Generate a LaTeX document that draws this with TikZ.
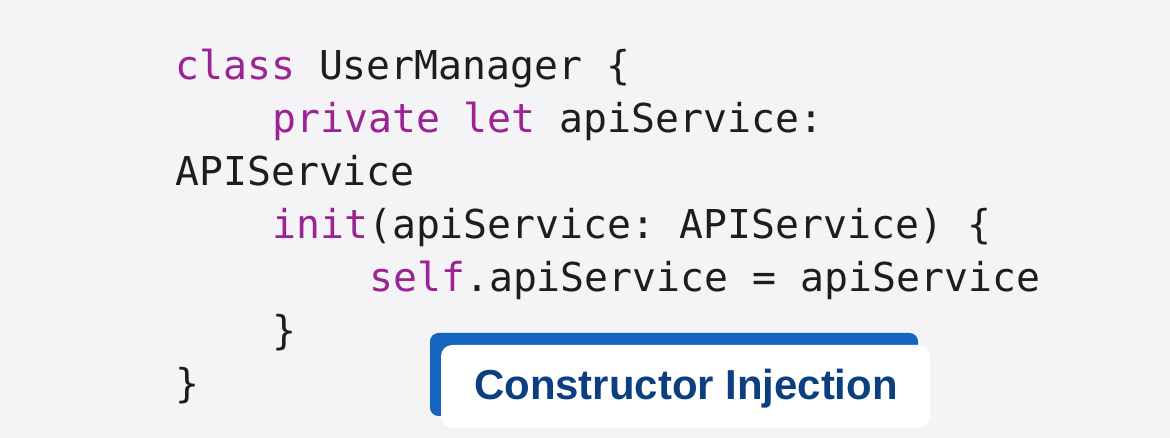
\documentclass[tikz,border=0pt]{standalone}
\usepackage{fontspec}
\setmainfont{Liberation Sans}
\setmonofont{DejaVu Sans Mono}
\usetikzlibrary{positioning}
\definecolor{pagebg}{HTML}{F4F4F7}
\definecolor{kwpurple}{HTML}{9B2393}
\definecolor{codeblack}{HTML}{1D1D1D}
\definecolor{badgeblue}{HTML}{1565C0}
\definecolor{badgetext}{HTML}{0B3F7F}
\newcommand{\kw}[1]{\textcolor{kwpurple}{#1}}
\tikzset{
    codeline/.style={anchor=base west, inner sep=0pt, text=codeblack,
        font=\ttfamily\fontsize{28.3}{28}\selectfont},
    badgeback/.style={fill=badgeblue, rounded corners=6pt},
    badgefront/.style={fill=white, rounded corners=8pt}
}
\begin{document}
\begin{tikzpicture}[x=0.025cm, y=-0.025cm]
    \useasboundingbox[fill=pagebg] (0,0) rectangle (1170,438);

    %-----Code lines-----
    \node [codeline] (l1) at (175,80) {\kw{class} UserManager \{};
    \node [codeline] (l2) at (272,133) {\kw{private} \kw{let} apiService:};
    \node [codeline] (l3) at (175,186) {APIService};
    \node [codeline] (l4) at (272,239) {\kw{init}(apiService: APIService) \{};
    \node [codeline] (l5) at (369,292) {\kw{self}.apiService = apiService};
    \node [codeline] (l6) at (272,345) {\}};
    \node [codeline] (l7) at (175,398) {\}};

    %-----Badge-----
    \fill [badgeback] (430,333) rectangle (918,416);
    \fill [badgefront] (441,345) rectangle (930,428);
    \node [font=\bfseries\fontsize{29.8}{30}\selectfont, text=badgetext] (badge)
        at (686,389) {Constructor Injection};
\end{tikzpicture}
\end{document}
